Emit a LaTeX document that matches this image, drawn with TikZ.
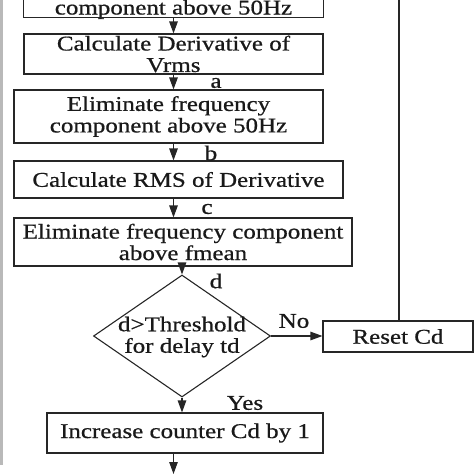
\documentclass[tikz,border=0pt]{standalone}
\usepackage{fontspec}
\setmainfont{Liberation Serif}[FakeStretch=1.19,FakeBold=0.7]
\usetikzlibrary{shapes.geometric,arrows.meta}
\begin{document}
\begin{tikzpicture}[x=1pt,y=-1pt,
  txt/.style={font=\fontsize{21}{21.5}\selectfont,text=black!90},
  box/.style={txt,draw=black!85,line width=1.1pt,align=center,inner sep=0pt},
  dec/.style={diamond,draw=black!85,line width=1.1pt,inner sep=0pt,minimum width=177pt,minimum height=122pt},
  lab/.style={txt,inner sep=0pt},
  arr/.style={draw=black!85,line width=1.1pt,-{Triangle[length=12pt,width=8.5pt]}},
  link/.style={draw=black!85,line width=1.1pt}]
\useasboundingbox (0,0) rectangle (474,474);
\clip (0,0) rectangle (474,474);
\fill[gray!55] (0,0) rectangle (2.7,465);

\coordinate (col) at (173.5,0);
\coordinate (top) at (399,0);
\coordinate (bot) at (173.5,474);

\node[txt,inner sep=0pt,minimum width=299pt,minimum height=17pt] (b1) at (173.5,8.5) {\raisebox{-6pt}[0pt][0pt]{component above 50Hz}};
\draw[link] ([yshift=3pt]b1.north west) -- (b1.south west) -- (b1.south east) -- ([yshift=3pt]b1.north east);
\node[box,minimum width=299pt,minimum height=40pt] (b2) at (173.5,54) {Calculate Derivative of\\Vrms};
\node[box,minimum width=309pt,minimum height=53pt] (b3) at (168.5,116.5) {Eliminate frequency\\component above 50Hz};
\node[box,minimum width=329pt,minimum height=37pt] (b4) at (178.5,179.5) {Calculate RMS of Derivative};
\node[box,minimum width=338pt,minimum height=48pt] (b5) at (183,242) {Eliminate frequency component\\above fmean};
\node[dec] (dec) at (182,336) {};
\node[lab,align=center] (dect) at (182,337) {d>Threshold\\for delay td};
\node[box,minimum width=150pt,minimum height=31pt] (reset) at (398,336.5) {Reset Cd};
\node[box,minimum width=276pt,minimum height=40pt] (b6) at (185,433) {Increase counter Cd by 1};

\draw[arr] (b1.south -| col) -- (b2.north -| col);
\draw[arr] (b2.south -| col) -- (b3.north -| col);
\draw[arr] (b3.south -| col) -- (b4.north -| col);
\draw[arr] (b4.south -| col) -- (b5.north -| col);
\draw[arr] (b5.south -| dec.north) -- (dec.north);
\draw[arr] (dec.south) -- (b6.north -| dec.south);
\draw[arr] (b6.south -| col) -- (bot);
\draw[arr] (dec.east) -- (reset.west |- dec.east);
\draw[link] (reset.north -| top) -- (top);

\node[lab] (la) at (216,83) {a};
\node[lab] (lb) at (211,153) {b};
\node[lab] (lc) at (207,209) {c};
\node[lab] (ld) at (216,281) {d};
\node[lab] (lno) at (294,321) {No};
\node[lab] (lyes) at (245,403) {Yes};
\end{tikzpicture}
\end{document}
